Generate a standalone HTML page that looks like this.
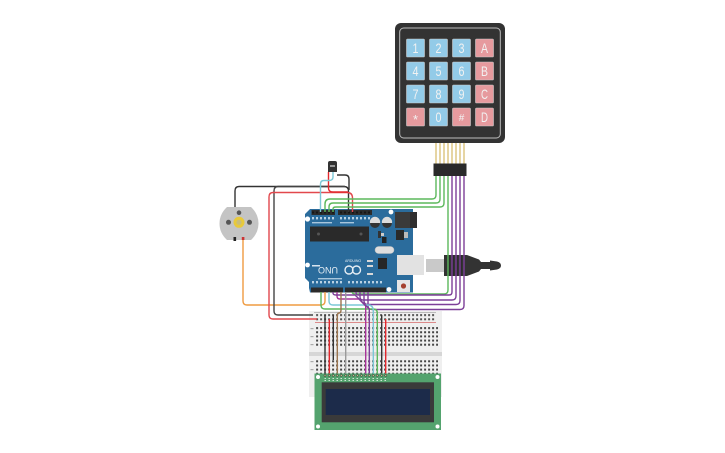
<!DOCTYPE html>
<html><head><meta charset="utf-8"><style>
html,body{margin:0;padding:0;background:#fff;width:725px;height:453px;overflow:hidden}
svg{display:block;filter:blur(.35px)}
text{font-family:"Liberation Sans",sans-serif}
</style></head><body>
<svg width="725" height="453" viewBox="0 0 725 453" xmlns="http://www.w3.org/2000/svg">
<defs>
<pattern id="h" x="316" y="327" width="4" height="4.150" patternUnits="userSpaceOnUse"><rect x=".1" y=".1" width="2" height="2" fill="#444"/></pattern>
<pattern id="hr" x="316" y="314" width="4" height="4.200" patternUnits="userSpaceOnUse"><rect x=".1" y=".1" width="2" height="2" fill="#555"/></pattern>
<pattern id="pin" x="311" y="210" width="4" height="5" patternUnits="userSpaceOnUse"><rect width="4" height="5" fill="#2b2b2b"/><rect x="1.2" y="1.5" width="1.6" height="2" fill="#111"/></pattern>
<pattern id="sp" x="311" y="0" width="4" height="4" patternUnits="userSpaceOnUse"><rect x="1" y="1" width="2" height="2.400" fill="#b9d2e4"/></pattern>
<pattern id="tick" x="323.500" y="0" width="4" height="4" patternUnits="userSpaceOnUse"><rect x="1" y="0" width="1.500" height="3" fill="#cfe5d6"/></pattern>
</defs>

<!-- breadboard -->
<rect x="309" y="311" width="133" height="86" fill="#efefef"/>
<rect x="309" y="352" width="133" height="4" fill="#d6d6d6"/>
<line x1="314" y1="312.500" x2="436" y2="312.500" stroke="#aaa" stroke-width=".8"/>
<line x1="315" y1="322.500" x2="436" y2="322.500" stroke="#dc8a8a" stroke-width=".9"/>
<rect x="316" y="314" width="120" height="7" fill="url(#hr)"/>
<rect x="316" y="327" width="122" height="20" fill="url(#h)"/>
<rect x="316" y="359.500" width="122" height="18" fill="url(#h)"/>
<rect x="310.500" y="328" width="3" height="1.200" fill="#aaa"/><rect x="310.500" y="336" width="3" height="1.200" fill="#aaa"/><rect x="310.500" y="344" width="3" height="1.200" fill="#aaa"/>
<rect x="310.500" y="361" width="3" height="1.200" fill="#aaa"/><rect x="310.500" y="369" width="3" height="1.200" fill="#aaa"/>

<!-- keypad -->
<rect x="395" y="23" width="110" height="120" rx="6" fill="#333"/>
<rect x="399.700" y="28" width="100.600" height="110" rx="4" fill="none" stroke="#bdbdbd" stroke-width="1"/>
<g stroke="#ccc" stroke-width=".6">
<rect x="406.500" y="39" width="18" height="18" rx="1" fill="#93cbe8"/><rect x="429.500" y="39" width="18" height="18" rx="1" fill="#93cbe8"/><rect x="452.500" y="39" width="18" height="18" rx="1" fill="#93cbe8"/><rect x="475.500" y="39" width="18" height="18" rx="1" fill="#e69a9e"/>
<rect x="406.500" y="62" width="18" height="18" rx="1" fill="#93cbe8"/><rect x="429.500" y="62" width="18" height="18" rx="1" fill="#93cbe8"/><rect x="452.500" y="62" width="18" height="18" rx="1" fill="#93cbe8"/><rect x="475.500" y="62" width="18" height="18" rx="1" fill="#e69a9e"/>
<rect x="406.500" y="85" width="18" height="18" rx="1" fill="#93cbe8"/><rect x="429.500" y="85" width="18" height="18" rx="1" fill="#93cbe8"/><rect x="452.500" y="85" width="18" height="18" rx="1" fill="#93cbe8"/><rect x="475.500" y="85" width="18" height="18" rx="1" fill="#e69a9e"/>
<rect x="406.500" y="108" width="18" height="18" rx="1" fill="#e69a9e"/><rect x="429.500" y="108" width="18" height="18" rx="1" fill="#93cbe8"/><rect x="452.500" y="108" width="18" height="18" rx="1" fill="#e69a9e"/><rect x="475.500" y="108" width="18" height="18" rx="1" fill="#e69a9e"/>
</g>
<g fill="#f2f2f2" font-size="14" text-anchor="middle" lengthAdjust="spacingAndGlyphs">
<text x="415.500" y="53" textLength="6" lengthAdjust="spacingAndGlyphs">1</text><text x="438.500" y="53" textLength="6" lengthAdjust="spacingAndGlyphs">2</text><text x="461.500" y="53" textLength="6" lengthAdjust="spacingAndGlyphs">3</text><text x="484.500" y="53" textLength="7" lengthAdjust="spacingAndGlyphs">A</text>
<text x="415.500" y="76" textLength="6" lengthAdjust="spacingAndGlyphs">4</text><text x="438.500" y="76" textLength="6" lengthAdjust="spacingAndGlyphs">5</text><text x="461.500" y="76" textLength="6" lengthAdjust="spacingAndGlyphs">6</text><text x="484.500" y="76" textLength="7" lengthAdjust="spacingAndGlyphs">B</text>
<text x="415.500" y="99" textLength="6" lengthAdjust="spacingAndGlyphs">7</text><text x="438.500" y="99" textLength="6" lengthAdjust="spacingAndGlyphs">8</text><text x="461.500" y="99" textLength="6" lengthAdjust="spacingAndGlyphs">9</text><text x="484.500" y="99" textLength="7" lengthAdjust="spacingAndGlyphs">C</text>
<text x="415.500" y="124" font-size="13">*</text><text x="438.500" y="122" textLength="6" lengthAdjust="spacingAndGlyphs">0</text><text x="461.500" y="121" font-size="10">#</text><text x="484.500" y="122" textLength="7" lengthAdjust="spacingAndGlyphs">D</text>
</g>
<g stroke="#e6d5a3" stroke-width="2">
<path d="M436 143V164M440 143V164M444 143V164M448 143V164M452 143V164M456 143V164M460 143V164M464 143V164"/>
</g>
<rect x="433.500" y="163.500" width="33" height="12.500" fill="#2a2a2a"/>

<!-- arduino board -->
<path d="M310 209H413V292.500H310L309 288V282L305 278V214Z" fill="#2b6c9c"/>
<circle cx="307.500" cy="219" r="2.600" fill="#fff"/>
<circle cx="391" cy="212" r="2.400" fill="#fff"/>
<circle cx="307.500" cy="265" r="2.400" fill="#fff"/>
<circle cx="389" cy="289.500" r="2.400" fill="#fff"/>
<rect x="311.500" y="210" width="23.500" height="5" fill="url(#pin)"/>
<rect x="338" y="210" width="34" height="5" fill="url(#pin)"/>
<rect x="311" y="287.500" width="32" height="5" fill="#2b2b2b"/>
<rect x="345" y="287.500" width="41" height="5" fill="#2b2b2b"/>
<rect x="312" y="216" width="23" height="4" fill="url(#sp)"/>
<rect x="340" y="216" width="30" height="4" fill="url(#sp)"/>
<rect x="312" y="280" width="30" height="5" fill="url(#sp)"/>
<rect x="347" y="280" width="36" height="5" fill="url(#sp)"/>
<rect x="312" y="222" width="20" height="1.400" fill="#a8c6dc"/>
<rect x="340" y="222" width="14" height="1.400" fill="#a8c6dc"/>
<rect x="318" y="278" width="24" height="1.400" fill="#a8c6dc"/>
<rect x="310" y="226.500" width="59" height="15" fill="#2a2a2a"/>
<circle cx="318.500" cy="234" r="1.500" fill="#555"/><circle cx="361" cy="234" r="1.500" fill="#555"/>
<circle cx="375" cy="222" r="5.200" fill="#dcdcdc"/><path d="M370 223a5 5 0 0 0 10 0z" fill="#333"/>
<circle cx="387" cy="222" r="5.200" fill="#dcdcdc"/><path d="M382 223a5 5 0 0 0 10 0z" fill="#333"/>
<rect x="395" y="212" width="22" height="16" fill="#2e2e2e"/>
<rect x="395" y="212" width="15" height="16" fill="#3a3a3a"/>
<rect x="396" y="230" width="8" height="10" fill="#2a2a2a"/><rect x="404" y="232" width="4" height="6" fill="#bbb"/>
<rect x="378" y="231" width="3" height="7" fill="#333"/><rect x="381" y="233" width="3" height="3" fill="#ccc"/>
<rect x="382" y="237" width="4.500" height="6" fill="#222"/>
<rect x="375" y="246.500" width="19" height="7" rx="3.500" fill="#dedede" stroke="#bbb" stroke-width=".5"/>
<rect x="378" y="258" width="9" height="11" fill="#262626"/>
<rect x="367" y="260" width="6" height="2" fill="#d8d8d8"/><rect x="367" y="265" width="6" height="2" fill="#d8d8d8"/><rect x="367" y="273" width="6" height="2" fill="#d8d8d8"/>
<circle cx="349" cy="270" r="4" fill="none" stroke="#e6eef4" stroke-width="1.400"/><circle cx="356.500" cy="270" r="4" fill="none" stroke="#e6eef4" stroke-width="1.400"/>
<text x="332" y="273" font-size="9" fill="#e6eef4" transform="rotate(180 335 270)">UNO</text>
<text x="345" y="262" font-size="3.500" fill="#e6eef4">ARDUINO</text>
<rect x="312" y="265" width="8" height="1.500" fill="#d8e4ee"/>

<!-- usb -->
<rect x="397" y="255" width="27" height="20" fill="#e2e2e2"/>
<rect x="426" y="259" width="19" height="13" fill="#c9c9c9"/>
<rect x="397" y="280" width="13" height="12" fill="#e6e6e6"/>
<circle cx="403.500" cy="286" r="2.600" fill="#a5412f"/>
<path d="M444 255H467L479 259.500L481 262H490V260.500L497 261.500Q501 262.500 501 265.500Q501 268.500 497 269.500L490 270.500V269H481L479 271.500L467 276H444Z" fill="#333"/>
<g stroke="#262626" stroke-width="1"><path d="M449 255V276M453 255V276M457 255V276M461 255V276"/></g>

<!-- motor -->
<path d="M227 207H251Q258.500 214 258.500 223.500Q258.500 233 251 240H227Q219.500 233 219.500 223.500Q219.500 214 227 207Z" fill="#c4c4c4"/>
<circle cx="239" cy="212.700" r="2.300" fill="#555"/>
<circle cx="228.500" cy="222.300" r="2.500" fill="#555"/>
<circle cx="249.500" cy="222.300" r="2.500" fill="#555"/>
<circle cx="239" cy="222.300" r="5.500" fill="#e8c93a"/>
<circle cx="239" cy="222.300" r="2.600" fill="#c9bd7a"/>
<rect x="233.500" y="237" width="2.600" height="4" fill="#222"/>
<rect x="241.800" y="237" width="2.600" height="3" fill="#c33"/>

<!-- wires -->
<g fill="none" stroke-width="1.400" stroke-linejoin="round">
<path d="M243 240V301Q243 305 247 305H321Q325 305 325 301V292" stroke="#ef9b41"/>
<path d="M235 207V191Q235 186.500 239 186.500H344Q348.500 186.500 348.500 191V212" stroke="#333"/>
<path d="M313 315H278Q274 315 274 311V191Q274 186.500 278 186.500H345" stroke="#444"/>
<path d="M317 319H273Q269 319 269 315V197Q269 192.500 273 192.500H347Q352.500 192.500 352.500 198V212" stroke="#e2484d"/>
<path d="M328.500 172V188Q328.500 192 333 192H348" stroke="#e2282d"/>
<path d="M337 175H345Q349 175 349 179V190" stroke="#333"/>
<path d="M333 172V177Q333 180.500 329 180.500H324Q320.500 180.500 320.500 184V212" stroke="#7cc8d6"/>
<path d="M436 176V195Q436 199 432 199H330Q325 199 325 204V212" stroke="#5cb85c"/>
<path d="M440 176V199Q440 203 436 203H333Q329 203 329 207V212" stroke="#5cb85c"/>
<path d="M444 176V203Q444 207 440 207H336Q333 207 333 209V212" stroke="#5cb85c"/>
<path d="M448 176V290Q448 294 444 294H356Q352 294 352 292" stroke="#5cb85c"/>
<path d="M452 176V292Q452 295 449 295H358Q356 295 356 292" stroke="#7d3f98"/>
<path d="M456 176V296Q456 300 452 300H363Q360 300 360 297V292" stroke="#7d3f98"/>
<path d="M460 176V300.500Q460 304.500 456 304.500H368Q364 304.500 364 301V292" stroke="#7d3f98"/>
<path d="M464 176V305.500Q464 309.500 460 309.500H372Q368 309.500 368 306V292" stroke="#7d3f98"/>
<path d="M321 292V305Q321 309 325 309H373Q377.300 309 377.300 313V374" stroke="#5cb85c"/>
<path d="M329 292V301Q329 305 333 305H368Q373.300 305 373.300 311V374" stroke="#7cc8d6"/>
<path d="M337 292V296Q337 299 340 299H359L365.700 306V374" stroke="#a8349a"/>
<path d="M333 292V293Q333 295 336 295H355L369.300 309V374" stroke="#7d3f98"/>
<path d="M341 292V310Q341 313 339 313Q337.300 313 337.300 316V374" stroke="#9c7650"/>
<path d="M345.700 292V374" stroke="#9a9a9a"/>
<path d="M325 315V374" stroke="#333"/>
<path d="M329.300 319V374" stroke="#e2282d"/>
<path d="M333.300 315V360" stroke="#333"/>
<path d="M381.700 315V374" stroke="#333"/>
<path d="M385.700 319V374" stroke="#e2282d"/>
</g>

<!-- sensor -->
<path d="M328 163Q328 161 330 161H335Q337 161 337 163V172H328Z" fill="#333"/>
<rect x="330" y="165" width="5" height="2" fill="#999"/>

<!-- LCD -->
<rect x="314.500" y="373.500" width="126.500" height="56.500" fill="#54a36e"/>
<rect x="321.700" y="382.300" width="112.300" height="40" fill="#3a3a3a"/>
<rect x="325.700" y="389" width="104.300" height="26" fill="#1c2b4a"/>
<circle cx="318" cy="377" r="2" fill="#fff"/><circle cx="437.500" cy="377" r="2" fill="#fff"/>
<circle cx="318" cy="426.500" r="2" fill="#fff"/><circle cx="437.500" cy="426.500" r="2" fill="#fff"/>
<g fill="#c9b98a" stroke="#333" stroke-width=".5">
<circle cx="325" cy="375.500" r="1"/><circle cx="329.300" cy="375.500" r="1"/><circle cx="333.300" cy="375.500" r="1"/><circle cx="337.300" cy="375.500" r="1"/><circle cx="341.300" cy="375.500" r="1"/><circle cx="345.700" cy="375.500" r="1"/><circle cx="349.500" cy="375.500" r="1"/><circle cx="353.500" cy="375.500" r="1"/><circle cx="357.500" cy="375.500" r="1"/><circle cx="361.500" cy="375.500" r="1"/><circle cx="365.700" cy="375.500" r="1"/><circle cx="369.300" cy="375.500" r="1"/><circle cx="373.300" cy="375.500" r="1"/><circle cx="377.300" cy="375.500" r="1"/><circle cx="381.700" cy="375.500" r="1"/><circle cx="385.700" cy="375.500" r="1"/>
</g>
<rect x="323.500" y="378" width="64" height="3" fill="url(#tick)"/>
</svg>
</body></html>
